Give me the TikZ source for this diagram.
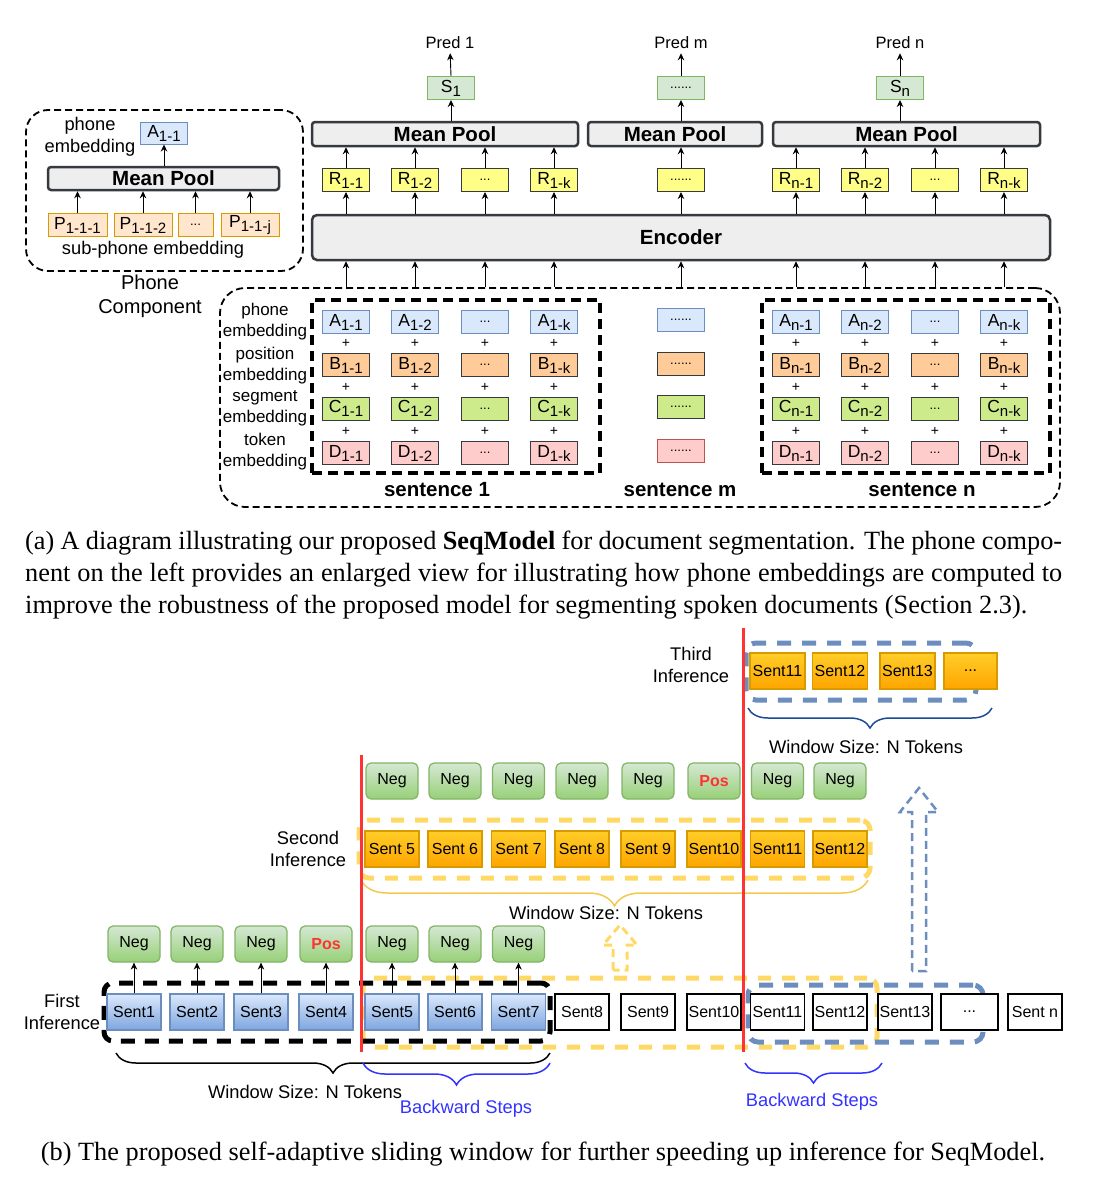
\documentclass[tikz,border=0pt]{standalone}
\usepackage{fontspec}
\setmainfont{Liberation Serif}
\newfontfamily\arial{Liberation Sans}
\usepackage{tikz}
\usetikzlibrary{calc,positioning}
\usetikzlibrary{arrows.meta}
\usetikzlibrary{decorations.pathreplacing}
\usepackage{xcolor}

\definecolor{afill}{HTML}{DAE8FC}
\definecolor{astroke}{HTML}{6C8EBF}
\definecolor{bfill}{HTML}{FFCC99}
\definecolor{cfill}{HTML}{CDEB8B}
\definecolor{dfill}{HTML}{FFCCCC}
\definecolor{dstroke}{HTML}{B85450}
\definecolor{rfill}{HTML}{FFFF88}
\definecolor{sfill}{HTML}{D5E8D4}
\definecolor{sstroke}{HTML}{82B366}
\definecolor{pfill}{HTML}{FFE6CC}
\definecolor{pstroke}{HTML}{D79B00}
\definecolor{dk}{HTML}{36393D}
\definecolor{poolfill}{HTML}{EEEEEE}
\definecolor{negbot}{HTML}{97D077}
\definecolor{sentbot}{HTML}{7EA6E0}
\definecolor{ortop}{HTML}{FFCD28}
\definecolor{orbot}{HTML}{FFA500}
\definecolor{ydash}{HTML}{FFD966}
\definecolor{redl}{HTML}{FF3333}
\definecolor{ybrace}{HTML}{F2C94C}
\definecolor{bsteps}{HTML}{3333FF}
\definecolor{navy}{HTML}{1C4C96}

\newcommand{\lb}[2]{{\fontsize{17.5}{18}\selectfont #1\raisebox{-4pt}{\fontsize{15}{15}\selectfont #2}}}
\newcommand{\dd}{{\fontsize{13}{13}\selectfont ...}}
\newcommand{\ddd}{{\fontsize{13}{13}\selectfont ......}}

\begin{document}
\begin{tikzpicture}[x=1pt, y=-1pt,
    font=\arial\fontsize{18.3}{22}\selectfont,
    box/.style = {draw, minimum width=47pt, minimum height=23pt, inner sep=0pt, line width=1pt},
    ba/.style = {box, fill=afill, draw=astroke},
    bb/.style = {box, fill=bfill, draw=dk},
    bc/.style = {box, fill=cfill, draw=dk},
    bd/.style = {box, fill=dfill, draw=dk},
    br/.style = {box, fill=rfill, draw=dk},
    bs/.style = {box, fill=sfill, draw=sstroke},
    bp/.style = {box, fill=pfill, draw=pstroke},
    pool/.style = {draw=dk, fill=poolfill, line width=2.5pt, rounded corners=3pt, inner sep=0pt, font=\arial\bfseries\fontsize{20.5}{24}\selectfont},
    arr/.style = {-{Stealth[length=7pt,width=6.5pt]}, line width=0.9pt},
    lbl/.style = {align=center, inner sep=0pt},
    elbl/.style = {lbl, font=\arial\fontsize{17}{21}\selectfont},
    pls/.style = {inner sep=0pt, font=\arial\fontsize{14}{14}\selectfont},
    dbox/.style = {draw, line width=1.8pt, dash pattern=on 7pt off 4pt, rounded corners=22pt, inner sep=0pt},
    sbox/.style = {draw, line width=3.5pt, dash pattern=on 10pt off 6pt, inner sep=0pt},
    bcell/.style = {minimum width=54pt, minimum height=36pt, inner sep=0pt, line width=1.2pt, font=\arial\fontsize{16}{16}\selectfont},
    sent/.style = {bcell, draw=astroke, top color=afill, bottom color=sentbot},
    osent/.style = {bcell, draw=pstroke, top color=ortop, bottom color=orbot},
    wsent/.style = {bcell, draw=black, fill=white, line width=1.6pt},
    neg/.style = {bcell, minimum width=52pt, draw=sstroke, top color=sfill, bottom color=negbot, rounded corners=5pt},
    kdash/.style = {draw=black, line width=5pt, dash pattern=on 14pt off 10pt, rounded corners=9pt, inner sep=0pt},
    ywin/.style = {draw=ydash, line width=5pt, dash pattern=on 13pt off 11pt, rounded corners=10pt, inner sep=0pt},
    bwin/.style = {draw=astroke, line width=5pt, dash pattern=on 14pt off 11pt, rounded corners=10pt, inner sep=0pt},
    brc/.style = {decorate, decoration={brace, mirror, amplitude=20pt}, line width=1.5pt},
    captxt/.style = {inner sep=0pt, font=\rmfamily\fontsize{26.3}{32}\selectfont}]
    \useasboundingbox (0,0) rectangle (1110,1186);

    % phone component
    \node[dbox, minimum width=277pt, minimum height=161pt] (phc) at (164.5,190.5) {};
    \node[lbl] (phl) at (90,137) {phone\\embedding};
    \node[ba, minimum height=22pt] (pa) at (164,133) {\lb{A}{1-1}};
    \node[pool, minimum width=231pt, minimum height=23pt] (pmp) at (163.5,178.5) {Mean Pool};
    \node[bp, minimum width=59pt] (p1) at (77.5,225) {\lb{P}{1-1-1}};
    \node[bp, minimum width=58pt] (p2) at (143,225) {\lb{P}{1-1-2}};
    \node[bp, minimum width=35pt] (p3) at (195.5,225) {\dd};
    \node[bp, minimum width=58pt] (p4) at (250,225) {\lb{P}{1-1-j}};
    \node[lbl] (sub) at (153,250) {sub-phone embedding};
    \node[lbl, font=\arial\fontsize{20}{24}\selectfont] (phn) at (150,296) {Phone\\Component};
    \draw[arr] (pa |- pmp.north) -- (pa.south);
    \draw[arr] (p1.north) -- (p1 |- pmp.south);
    \draw[arr] (p2.north) -- (p2 |- pmp.south);
    \draw[arr] (p3.north) -- (p3 |- pmp.south);
    \draw[arr] (p4.north) -- (p4 |- pmp.south);

    % predictions
    \node[lbl, font=\arial\fontsize{16.5}{20}\selectfont] (pr1) at (450,43) {Pred 1};
    \node[lbl, font=\arial\fontsize{16.5}{20}\selectfont] (prm) at (681,43) {Pred m};
    \node[lbl, font=\arial\fontsize{16.5}{20}\selectfont] (prn) at (900,43) {Pred n};
    \node[bs] (s1) at (451,88) {\lb{S}{1}};
    \node[bs] (sm) at (681,88) {\ddd};
    \node[bs] (sn) at (900,88) {\lb{S}{n}};
    \draw[arr, shorten >=4pt] (s1.north) -- (pr1.south);
    \draw[arr, shorten >=4pt] (sm.north) -- (prm.south);
    \draw[arr, shorten >=4pt] (sn.north) -- (prn.south);

    % mean pools
    \node[pool, minimum width=266pt, minimum height=24pt] (mp1) at (445,134) {Mean Pool};
    \node[pool, minimum width=174pt, minimum height=24pt] (mpm) at (675,134) {Mean Pool};
    \node[pool, minimum width=267pt, minimum height=24pt] (mpn) at (906.5,134) {Mean Pool};
    \draw[arr] (s1 |- mp1.north) -- (s1.south);
    \draw[arr] (sm |- mpm.north) -- (sm.south);
    \draw[arr] (sn |- mpn.north) -- (sn.south);

    % sentence representations
    \node[br] (r11) at (346,180) {\lb{R}{1-1}};
    \node[br] (r12) at (415,180) {\lb{R}{1-2}};
    \node[br] (r1d) at (485,180) {\dd};
    \node[br] (r1k) at (554,180) {\lb{R}{1-k}};
    \node[br] (rm) at (681,180) {\ddd};
    \node[br] (rn1) at (796,180) {\lb{R}{n-1}};
    \node[br] (rn2) at (865,180) {\lb{R}{n-2}};
    \node[br] (rnd) at (935,180) {\dd};
    \node[br] (rnk) at (1004,180) {\lb{R}{n-k}};
    \draw[arr] (r11.north) -- (r11 |- mp1.south);
    \draw[arr] (r12.north) -- (r12 |- mp1.south);
    \draw[arr] (r1d.north) -- (r1d |- mp1.south);
    \draw[arr] (r1k.north) -- (r1k |- mp1.south);
    \draw[arr] (rm.north) -- (rm |- mpm.south);
    \draw[arr] (rn1.north) -- (rn1 |- mpn.south);
    \draw[arr] (rn2.north) -- (rn2 |- mpn.south);
    \draw[arr] (rnd.north) -- (rnd |- mpn.south);
    \draw[arr] (rnk.north) -- (rnk |- mpn.south);

    % encoder
    \node[pool, minimum width=738pt, minimum height=45pt, rounded corners=5pt] (enc) at (681,237.5) {Encoder};
    \draw[arr] (r11 |- enc.north) -- (r11.south);
    \draw[arr] (r12 |- enc.north) -- (r12.south);
    \draw[arr] (r1d |- enc.north) -- (r1d.south);
    \draw[arr] (r1k |- enc.north) -- (r1k.south);
    \draw[arr] (rm |- enc.north) -- (rm.south);
    \draw[arr] (rn1 |- enc.north) -- (rn1.south);
    \draw[arr] (rn2 |- enc.north) -- (rn2.south);
    \draw[arr] (rnd |- enc.north) -- (rnd.south);
    \draw[arr] (rnk |- enc.north) -- (rnk.south);

    % input embeddings
    \node[dbox, rounded corners=25pt, minimum width=840pt, minimum height=219pt] (emb) at (640,397.5) {};
    \node[sbox, minimum width=288pt, minimum height=173pt] (sen1) at (456,386.5) {};
    \node[sbox, minimum width=288pt, minimum height=173pt] (senn) at (906,386.5) {};
    \node[elbl] (la) at (265,322) {phone\\embedding};
    \node[elbl] (lb) at (265,365.5) {position\\embedding};
    \node[elbl] (lc) at (265,408) {segment\\embedding};
    \node[elbl] (ld) at (265,452) {token\\embedding};

    \node[ba] (a11) at (346,322) {\lb{A}{1-1}};
    \node[ba] (a12) at (415,322) {\lb{A}{1-2}};
    \node[ba] (a1d) at (485,322) {\dd};
    \node[ba] (a1k) at (554,322) {\lb{A}{1-k}};
    \node[ba] (am) at (681,320) {\ddd};
    \node[ba] (an1) at (796,322) {\lb{A}{n-1}};
    \node[ba] (an2) at (865,322) {\lb{A}{n-2}};
    \node[ba] (and) at (935,322) {\dd};
    \node[ba] (ank) at (1004,322) {\lb{A}{n-k}};

    \node[bb] (b11) at (346,365) {\lb{B}{1-1}};
    \node[bb] (b12) at (415,365) {\lb{B}{1-2}};
    \node[bb] (b1d) at (485,365) {\dd};
    \node[bb] (b1k) at (554,365) {\lb{B}{1-k}};
    \node[bb] (bm) at (681,364) {\ddd};
    \node[bb] (bn1) at (796,365) {\lb{B}{n-1}};
    \node[bb] (bn2) at (865,365) {\lb{B}{n-2}};
    \node[bb] (bnd) at (935,365) {\dd};
    \node[bb] (bnk) at (1004,365) {\lb{B}{n-k}};

    \node[bc] (c11) at (346,408.5) {\lb{C}{1-1}};
    \node[bc] (c12) at (415,408.5) {\lb{C}{1-2}};
    \node[bc] (c1d) at (485,408.5) {\dd};
    \node[bc] (c1k) at (554,408.5) {\lb{C}{1-k}};
    \node[bc] (cm) at (681,407) {\ddd};
    \node[bc] (cn1) at (796,408.5) {\lb{C}{n-1}};
    \node[bc] (cn2) at (865,408.5) {\lb{C}{n-2}};
    \node[bc] (cnd) at (935,408.5) {\dd};
    \node[bc] (cnk) at (1004,408.5) {\lb{C}{n-k}};

    \node[bd] (d11) at (346,453) {\lb{D}{1-1}};
    \node[bd] (d12) at (415,453) {\lb{D}{1-2}};
    \node[bd] (d1d) at (485,453) {\dd};
    \node[bd] (d1k) at (554,453) {\lb{D}{1-k}};
    \node[bd, draw=dstroke] (dm) at (681,451) {\ddd};
    \node[bd] (dn1) at (796,453) {\lb{D}{n-1}};
    \node[bd] (dn2) at (865,453) {\lb{D}{n-2}};
    \node[bd] (dnd) at (935,453) {\dd};
    \node[bd] (dnk) at (1004,453) {\lb{D}{n-k}};

    \node[pls] (q11) at (346,343) {+};
    \node[pls] (q12) at (415,343) {+};
    \node[pls] (q13) at (485,343) {+};
    \node[pls] (q14) at (554,343) {+};
    \node[pls] (q15) at (796,343) {+};
    \node[pls] (q16) at (865,343) {+};
    \node[pls] (q17) at (935,343) {+};
    \node[pls] (q18) at (1004,343) {+};
    \node[pls] (q21) at (346,387) {+};
    \node[pls] (q22) at (415,387) {+};
    \node[pls] (q23) at (485,387) {+};
    \node[pls] (q24) at (554,387) {+};
    \node[pls] (q25) at (796,387) {+};
    \node[pls] (q26) at (865,387) {+};
    \node[pls] (q27) at (935,387) {+};
    \node[pls] (q28) at (1004,387) {+};
    \node[pls] (q31) at (346,431) {+};
    \node[pls] (q32) at (415,431) {+};
    \node[pls] (q33) at (485,431) {+};
    \node[pls] (q34) at (554,431) {+};
    \node[pls] (q35) at (796,431) {+};
    \node[pls] (q36) at (865,431) {+};
    \node[pls] (q37) at (935,431) {+};
    \node[pls] (q38) at (1004,431) {+};

    \node[lbl, font=\arial\bfseries\fontsize{20.5}{24}\selectfont] (t1) at (437,490) {sentence 1};
    \node[lbl, font=\arial\bfseries\fontsize{20.5}{24}\selectfont] (tm) at (680,490) {sentence m};
    \node[lbl, font=\arial\bfseries\fontsize{20.5}{24}\selectfont] (tn) at (922,490) {sentence n};

    \draw[arr] (a11 |- emb.north) -- (a11 |- enc.south);
    \draw[arr] (a12 |- emb.north) -- (a12 |- enc.south);
    \draw[arr] (a1d |- emb.north) -- (a1d |- enc.south);
    \draw[arr] (a1k |- emb.north) -- (a1k |- enc.south);
    \draw[arr] (am |- emb.north) -- (am |- enc.south);
    \draw[arr] (an1 |- emb.north) -- (an1 |- enc.south);
    \draw[arr] (an2 |- emb.north) -- (an2 |- enc.south);
    \draw[arr] (and |- emb.north) -- (and |- enc.south);
    \draw[arr] (ank |- emb.north) -- (ank |- enc.south);

    % caption (a)
    \node[captxt, anchor=base west] (capa1) at (25,549) {\makebox[1037pt][s]{(a) A diagram illustrating our proposed \textbf{SeqModel} for document segmentation. The phone compo-}};
    \node[captxt, anchor=base west] (capa2) at (25,581) {\makebox[1037pt][s]{nent on the left provides an enlarged view for illustrating how phone embeddings are computed to}};
    \node[captxt, anchor=base west] (capa3) at (25,613) {improve the robustness of the proposed model for segmenting spoken documents (Section 2.3).};

    % sliding windows
    \node[ywin, minimum width=514pt, minimum height=69pt] (w2a) at (620,1012.5) {};
    \node[kdash, minimum width=446pt, minimum height=58pt] (w1) at (327,1012) {};
    \node[bwin, minimum width=235pt, minimum height=57pt] (w3a) at (865.5,1013.5) {};
    \node[ywin, minimum width=511pt, minimum height=58pt] (w2) at (614.5,849) {};
    \node[bwin, minimum width=230pt, minimum height=57pt] (w3) at (861,671.5) {};

    % first inference
    \node[lbl] (fi) at (62,1012) {First\\Inference};
    \node[sent] (f1) at (134,1012) {Sent1};
    \node[sent] (f2) at (197,1012) {Sent2};
    \node[sent] (f3) at (261,1012) {Sent3};
    \node[sent] (f4) at (326,1012) {Sent4};
    \node[sent] (f5) at (392,1012) {Sent5};
    \node[sent] (f6) at (455,1012) {Sent6};
    \node[sent] (f7) at (518.5,1012) {Sent7};
    \node[wsent] (f8) at (582,1012) {Sent8};
    \node[wsent] (f9) at (648,1012) {Sent9};
    \node[wsent] (f10) at (714,1012) {Sent10};
    \node[wsent] (f11) at (777.5,1012) {Sent11};
    \node[wsent] (f12) at (840,1012) {Sent12};
    \node[wsent] (f13) at (905,1012) {Sent13};
    \node[wsent, minimum width=57pt] (f14) at (969.5,1012) {...};
    \node[wsent] (f15) at (1035,1012) {Sent n};
    \node[neg] (g1) at (134,944) {Neg};
    \node[neg] (g2) at (197,944) {Neg};
    \node[neg] (g3) at (261,944) {Neg};
    \node[neg] (g4) at (326,944) {\textcolor{redl}{\bfseries Pos}};
    \node[neg] (g5) at (392,944) {Neg};
    \node[neg] (g6) at (455,944) {Neg};
    \node[neg] (g7) at (518.5,944) {Neg};
    \draw[arr] (f1.north) -- (g1.south);
    \draw[arr] (f2.north) -- (g2.south);
    \draw[arr] (f3.north) -- (g3.south);
    \draw[arr] (f4.north) -- (g4.south);
    \draw[arr] (f5.north) -- (g5.south);
    \draw[arr] (f6.north) -- (g6.south);
    \draw[arr] (f7.north) -- (g7.south);

    % second inference
    \node[lbl] (si) at (308,849) {Second\\Inference};
    \node[osent] (e5) at (392,849) {Sent 5};
    \node[osent] (e6) at (455,849) {Sent 6};
    \node[osent] (e7) at (518.5,849) {Sent 7};
    \node[osent] (e8) at (582,849) {Sent 8};
    \node[osent] (e9) at (648,849) {Sent 9};
    \node[osent] (e10) at (714,849) {Sent10};
    \node[osent] (e11) at (777.5,849) {Sent11};
    \node[osent] (e12) at (840,849) {Sent12};
    \node[neg] (h5) at (392,781) {Neg};
    \node[neg] (h6) at (455,781) {Neg};
    \node[neg] (h7) at (518.5,781) {Neg};
    \node[neg] (h8) at (582,781) {Neg};
    \node[neg] (h9) at (648,781) {Neg};
    \node[neg] (h10) at (714,781) {\textcolor{redl}{\bfseries Pos}};
    \node[neg] (h11) at (777.5,781) {Neg};
    \node[neg] (h12) at (840,781) {Neg};

    % third inference
    \node[lbl] (ti) at (691,665) {Third\\Inference};
    \node[osent, minimum width=55pt] (t11) at (777.5,671) {Sent11};
    \node[osent, minimum width=55pt] (t12) at (840,671) {Sent12};
    \node[osent, minimum width=55pt] (t13) at (907.5,671) {Sent13};
    \node[osent, minimum width=53pt] (t14) at (970.5,671) {...};

    % shift arrows
    \draw[draw=ydash, line width=3pt, dash pattern=on 8pt off 5pt] (613,970) -- (613,945) -- (603,945) -- (620,925) -- (637,945) -- (627,945) -- (627,970) -- cycle;
    \draw[draw=astroke, line width=2.5pt, dash pattern=on 8pt off 5pt] (912,971) -- (912,812) -- (900,812) -- (919,788) -- (938,812) -- (926,812) -- (926,971) -- cycle;

    % braces
    \draw[brc, black] (116,1053) -- (550,1053);
    \draw[brc, bsteps, decoration={amplitude=22pt}] (363,1063) -- (550,1063);
    \draw[brc, bsteps] (745,1063) -- (882,1063);
    \draw[brc, ybrace, decoration={amplitude=26pt}] (361,880) -- (868,880);
    \draw[brc, navy] (748,708) -- (992,708);
    \node[lbl] (ws1) at (305,1092) {Window Size: N Tokens};
    \node[lbl, text=bsteps] (bs1) at (466,1109) {Backward Steps};
    \node[lbl] (ws2) at (606,913) {Window Size: N Tokens};
    \node[lbl, text=bsteps] (bs2) at (812,1102) {Backward Steps};
    \node[lbl] (ws3) at (866,747) {Window Size: N Tokens};

    % boundaries
    \draw[draw=redl, line width=3pt] (361,755) -- (361,1052);
    \draw[draw=redl, line width=3pt] (743,628) -- (743,1052);

    % caption (b)
    \node[captxt, anchor=base] (capb) at (543,1160) {(b) The proposed self-adaptive sliding window for further speeding up inference for SeqModel.};
\end{tikzpicture}
\end{document}
